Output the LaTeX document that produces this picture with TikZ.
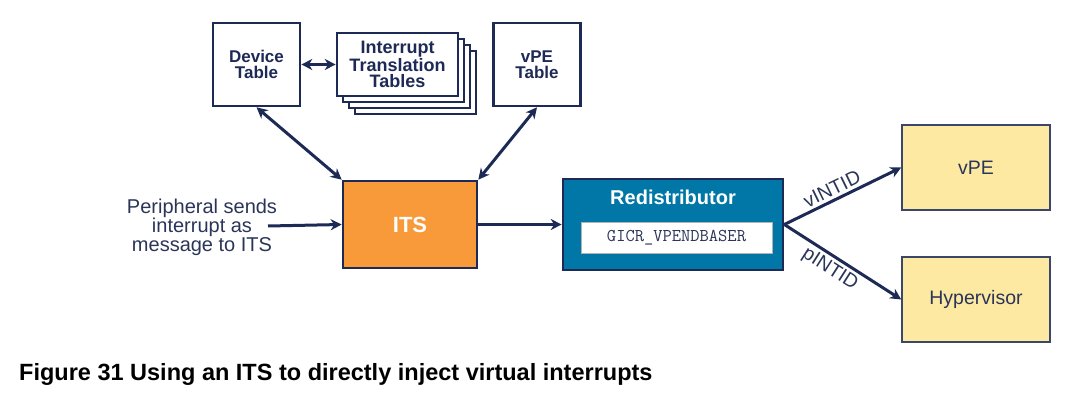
\documentclass[tikz,border=0pt]{standalone}
\usepackage{fontspec}
\setmainfont{Liberation Sans}
\usetikzlibrary{arrows.meta,positioning,calc}
\definecolor{navy}{HTML}{1E2A56}
\definecolor{itsorange}{HTML}{F8993A}
\definecolor{redblue}{HTML}{0077A6}
\definecolor{paleyellow}{HTML}{FDE9A2}
\definecolor{ybord}{HTML}{3C4668}
\definecolor{txtnavy}{HTML}{2A3558}
\tikzset{
  tablebox/.style={draw=navy,line width=2.6pt,fill=white,minimum width=87pt,minimum height=83pt,inner sep=0pt,align=center,text=navy,font=\bfseries\fontsize{17}{16}\selectfont},
  ittbox/.style={draw=navy,line width=2.6pt,fill=white,minimum width=121pt,minimum height=63pt,inner sep=0pt,align=center,text=navy,font=\bfseries\fontsize{18}{16.5}\selectfont},
  itsbox/.style={draw=navy,line width=2.6pt,fill=itsorange,minimum width=134pt,minimum height=87pt,inner sep=0pt,text=white,font=\bfseries\fontsize{22}{22}\selectfont},
  redbox/.style={draw=navy,line width=2.6pt,fill=redblue,minimum width=220pt,minimum height=91pt,inner sep=0pt},
  regbox/.style={fill=white,draw=gray!60,line width=0.6pt,minimum width=191pt,minimum height=31pt,inner sep=0pt,font=\ttfamily\fontsize{18}{18}\selectfont,text=txtnavy},
  ybox/.style={draw=ybord,line width=1.5pt,fill=paleyellow,minimum width=148pt,minimum height=85pt,inner sep=0pt,text=txtnavy,font=\fontsize{19.5}{19.5}\selectfont},
  conn/.style={draw=navy,line width=3pt,-{Stealth[length=11pt,width=11pt,inset=3.5pt]}},
  bconn/.style={draw=navy,line width=3pt,{Stealth[length=11pt,width=11pt,inset=3.5pt]}-{Stealth[length=11pt,width=11pt,inset=3.5pt]}},
  lbl/.style={text=txtnavy,font=\fontsize{19.5}{19.5}\selectfont,inner sep=3pt}
}
\begin{document}
\begin{tikzpicture}[x=1pt,y=-1pt]
\useasboundingbox (0,0) rectangle (1085,404);
% tables
\node[tablebox] (dev) at (256.5,64.5) {Device\\Table};
\node[tablebox] (vpet) at (537,64.5) {vPE\\Table};
\node[ittbox] (itt3) at (415.5,82.5) {};
\node[ittbox] (itt2) at (409.5,76.5) {};
\node[ittbox] (itt1) at (403.5,70.5) {};
\node[ittbox] (itt) at (397.5,64.5) {Interrupt\\Translation\\Tables};
% ITS
\node[itsbox] (its) at (410,224.5) {ITS};
% peripheral text
\node[align=center,text=txtnavy,font=\fontsize{20}{18.5}\selectfont,inner sep=0pt] (per) at (202,227) {Peripheral sends\\interrupt as\\message to ITS};
\coordinate (pin) at (268,226);
% redistributor
\node[redbox] (red) at (673,224.5) {};
\node[text=white,font=\bfseries\fontsize{20}{20}\selectfont,inner sep=0pt] (redt) at (673,197) {Redistributor};
\node[regbox] (reg) at (676.5,238) {GICR\_VPENDBASER};
% vPE and hypervisor
\node[ybox] (vpe) at (976,167.5) {vPE};
\node[ybox] (hyp) at (976,299.5) {Hypervisor};
% connectors
\draw[bconn] (dev) -- (itt);
\draw[bconn] (dev.south) -- (its.north west);
\draw[bconn] (vpet.south) -- (its.north east);
\draw[conn] (pin) -- (its.west);
\draw[conn] (its.east) -- (red.west);
\draw[conn] (red.east) -- node[lbl,sloped,above,pos=0.45] {vINTID} (vpe.west);
\draw[conn] (red.east) -- node[lbl,sloped,below,pos=0.45] {pINTID} (hyp.west);
% caption
\node[anchor=base west,inner sep=0pt,font=\bfseries\fontsize{23.5}{23.5}\selectfont] (cap) at (19,380) {Figure 31 Using an ITS to directly inject virtual interrupts};
\end{tikzpicture}
\end{document}
